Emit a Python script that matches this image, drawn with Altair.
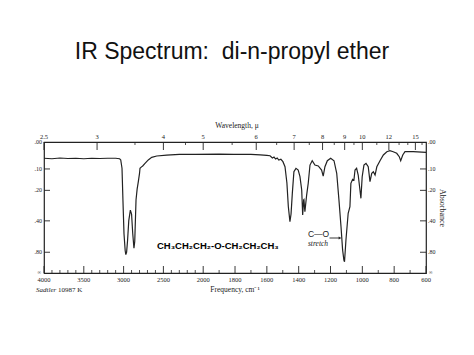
import altair as alt
import pandas as pd

# ---- spectrum (frequency cm-1, transmittance fraction) ----
freq = [4000, 3900, 3800, 3700, 3600, 3500, 3400, 3300, 3200, 3100, 3050, 3036, 3020,
        3008, 2995, 2980, 2972, 2962, 2950, 2935, 2915, 2900, 2885, 2870, 2860, 2844,
        2830, 2815, 2800, 2794, 2775, 2760, 2731, 2690, 2647, 2584, 2459, 2300, 2100,
        1900, 1807, 1700, 1642, 1600, 1580, 1565, 1555, 1545, 1535, 1525, 1512, 1499,
        1486, 1474, 1465, 1455, 1448, 1440, 1430, 1417, 1403, 1392, 1381, 1375, 1369,
        1367, 1361, 1350, 1340, 1329, 1315, 1298, 1277, 1256, 1246, 1235, 1220, 1199,
        1178, 1161, 1147, 1134, 1124, 1116, 1112, 1103, 1089, 1078, 1072, 1061, 1053,
        1046, 1036, 1026, 1015, 1009, 1001, 990, 977, 963, 952, 941, 931, 920, 909,
        889, 868, 846, 827, 806, 784, 768, 759, 746, 732, 680, 600]
trans = [0.876, 0.872, 0.878, 0.874, 0.876, 0.872, 0.876, 0.874, 0.876, 0.876, 0.872, 0.863, 0.80,
         0.55, 0.30, 0.17, 0.14, 0.16, 0.25, 0.40, 0.48, 0.45, 0.30, 0.19, 0.24, 0.557,
         0.64, 0.697, 0.76, 0.80, 0.81, 0.817, 0.837, 0.863, 0.883, 0.893, 0.90, 0.905, 0.905,
         0.907, 0.905, 0.905, 0.902, 0.898, 0.895, 0.878, 0.885, 0.870, 0.878, 0.862, 0.868, 0.850,
         0.811, 0.687, 0.506, 0.392, 0.45, 0.608, 0.773, 0.799, 0.786, 0.735, 0.634, 0.443, 0.557,
         0.56, 0.468, 0.595, 0.685, 0.824, 0.857, 0.824, 0.817, 0.786, 0.740, 0.811, 0.857, 0.876,
         0.857, 0.761, 0.557, 0.353, 0.176, 0.099, 0.086, 0.252, 0.456, 0.506, 0.685, 0.715, 0.710,
         0.786, 0.799, 0.748, 0.634, 0.570, 0.735, 0.824, 0.837, 0.811, 0.697, 0.761, 0.773, 0.748, 0.811,
         0.857, 0.901, 0.926, 0.934, 0.926, 0.914, 0.888, 0.857, 0.901, 0.926, 0.926, 0.921]

# ---- axis ticks and labels ----
freq_major = [4000, 3500, 3000, 2500, 2000, 1800, 1600, 1400, 1200, 1000, 800, 600]
freq_labels = ["4000", "3500", "3000", "2500", "2000", "1800", "1600", "1400", "1200",
               "1000", "800", "600"]
freq_minor = [3900, 3800, 3700, 3600, 3400, 3300, 3200, 3100, 2900, 2800, 2700, 2600,
              2400, 2300, 2200, 2100, 1900, 1700, 1500, 1300, 1100, 900, 700]
wl_major = [2.5, 3, 4, 5, 6, 7, 8, 9, 10, 12, 15]
wl_labels = ["2.5", "3", "4", "5", "6", "7", "8", "9", "10", "12", "15"]
wl_minor = [3.5, 4.5, 5.5, 6.5, 7.5, 8.5, 9.5, 11, 13, 14, 16]
abs_ticks = [0.0, 0.1, 0.2, 0.4, 0.8]
abs_labels = [".00", ".10", ".20", ".40", ".80"]
inf_label = "\u221e"

W, H = 382, 131
SERIF = "Liberation Serif"
SANS = "Liberation Sans"
INK = "#222222"

xs = alt.Scale(domain=[4000, 2000, 600], range=[0, 159.2, W], nice=False, zero=False)
ys = alt.Scale(domain=[0, 1], nice=False, zero=False)

abs_T = [10 ** (-a) for a in abs_ticks]

spec_df = pd.DataFrame({"freq": freq, "T": trans})

line = alt.Chart(spec_df).mark_line(color=INK, strokeWidth=1.2).encode(
    x=alt.X("freq:Q", scale=xs, axis=None),
    y=alt.Y("T:Q", scale=ys, axis=None),
)

fmaj = pd.DataFrame({"freq": freq_major, "lab": freq_labels})
fmin = pd.DataFrame({"freq": freq_minor})
bot_major = alt.Chart(fmaj).mark_rule(color=INK, strokeWidth=0.9).encode(
    x=alt.X("freq:Q", scale=xs, axis=None), y=alt.value(H), y2=alt.value(H - 7))
bot_minor = alt.Chart(fmin).mark_rule(color=INK, strokeWidth=0.8).encode(
    x=alt.X("freq:Q", scale=xs, axis=None), y=alt.value(H), y2=alt.value(H - 3))
bot_labels = alt.Chart(fmaj).mark_text(
    font=SERIF, fontSize=6.5, color=INK, baseline="alphabetic", align="center").encode(
    x=alt.X("freq:Q", scale=xs, axis=None), y=alt.value(H + 9), text="lab:N")

wmaj = pd.DataFrame({"wl": wl_major, "lab": wl_labels})
wmin = pd.DataFrame({"wl": wl_minor})
top_major = alt.Chart(wmaj).transform_calculate(freq="10000 / datum.wl").mark_rule(
    color=INK, strokeWidth=0.9).encode(
    x=alt.X("freq:Q", scale=xs, axis=None), y=alt.value(0), y2=alt.value(8))
top_minor = alt.Chart(wmin).transform_calculate(freq="10000 / datum.wl").mark_rule(
    color=INK, strokeWidth=0.8).encode(
    x=alt.X("freq:Q", scale=xs, axis=None), y=alt.value(0), y2=alt.value(3))
top_labels = alt.Chart(wmaj).transform_calculate(freq="10000 / datum.wl").mark_text(
    font=SERIF, fontSize=6.5, color=INK, baseline="alphabetic", align="center").encode(
    x=alt.X("freq:Q", scale=xs, axis=None), y=alt.value(-3), text="lab:N")

adf = pd.DataFrame({"T": abs_T, "lab": abs_labels})
adf_in = adf.iloc[1:]
left_ticks = alt.Chart(adf_in).mark_rule(color=INK, strokeWidth=0.9).encode(
    y=alt.Y("T:Q", scale=ys, axis=None), x=alt.value(0), x2=alt.value(6))
right_ticks = alt.Chart(adf_in).mark_rule(color=INK, strokeWidth=0.9).encode(
    y=alt.Y("T:Q", scale=ys, axis=None), x=alt.value(W), x2=alt.value(W - 6))
left_labels = alt.Chart(adf).mark_text(
    font=SERIF, fontSize=6, color=INK, align="right", baseline="middle").encode(
    y=alt.Y("T:Q", scale=ys, axis=None), x=alt.value(-2), text="lab:N")
right_labels = alt.Chart(adf).mark_text(
    font=SERIF, fontSize=6, color=INK, align="left", baseline="middle").encode(
    y=alt.Y("T:Q", scale=ys, axis=None), x=alt.value(W + 2), text="lab:N")


def label(text, x, y, **kw):
    return alt.Chart(pd.DataFrame({"t": [text]})).mark_text(**kw).encode(
        x=alt.value(x), y=alt.value(y), text="t:N")


inf_left = label(inf_label, -3, H - 1, font=SERIF, fontSize=5, color=INK,
                 align="right", baseline="middle")
inf_right = label(inf_label, W + 3, H - 1, font=SERIF, fontSize=5, color=INK,
                  align="left", baseline="middle")
title = label("IR Spectrum:\u00a0 di-n-propyl ether", 188, -83, font=SANS, fontSize=23,
              color="#111111", align="center", baseline="alphabetic")
wl_title = label("Wavelength, \u03bc", 193, -14, font=SERIF, fontSize=7.5, color=INK,
                 align="center", baseline="alphabetic")
fr_title = label("Frequency, cm\u207b\u00b9", 191, 150, font=SERIF, fontSize=7.5, color=INK,
                 align="center", baseline="alphabetic")
sadtler = label("Sadtler", -8, 150, font=SERIF, fontSize=7, fontStyle="italic", color=INK,
                align="left", baseline="alphabetic")
sadtler_no = label("10987 K", 14, 150, font=SERIF, fontSize=7, color=INK,
                   align="left", baseline="alphabetic")
absorb = label("Absorbance", 398, 66, font=SERIF, fontSize=8, color=INK, angle=90,
               align="center", baseline="middle")
formula = label("CH\u2083CH\u2082CH\u2082-O-CH\u2082CH\u2082CH\u2083", 113, 107, font=SANS,
                fontSize=9.5, fontWeight="bold", color="#000000", align="left",
                baseline="alphabetic")
co = label("C\u2014O", 274.5, 95, font=SANS, fontSize=8.5, color=INK, align="center",
           baseline="alphabetic")
stretch = label("stretch", 274, 104, font=SERIF, fontSize=7.5, fontStyle="italic",
                color=INK, align="center", baseline="alphabetic")

one = pd.DataFrame({"k": [0]})
arrow_line = alt.Chart(one).mark_rule(color=INK, strokeWidth=0.9).encode(
    x=alt.value(285.5), x2=alt.value(295), y=alt.value(96))
arrow_head = alt.Chart(one).mark_point(shape="triangle-right", filled=True, color=INK,
                                       size=10, opacity=1).encode(
    x=alt.value(296), y=alt.value(96))

chart = alt.layer(
    line, bot_major, bot_minor, bot_labels, top_major, top_minor, top_labels,
    left_ticks, right_ticks, left_labels, right_labels, inf_left, inf_right,
    title, wl_title, fr_title, sadtler, sadtler_no, absorb, formula, co, stretch,
    arrow_line, arrow_head,
).properties(
    width=W, height=H,
    autosize=alt.AutoSizeParams(type="none"),
    padding={"left": 44, "top": 142, "right": 48, "bottom": 82},
    background="white",
).configure_view(stroke=INK, strokeWidth=1.2)

chart.save("out.html", embed_options={"renderer": "svg", "actions": False})
